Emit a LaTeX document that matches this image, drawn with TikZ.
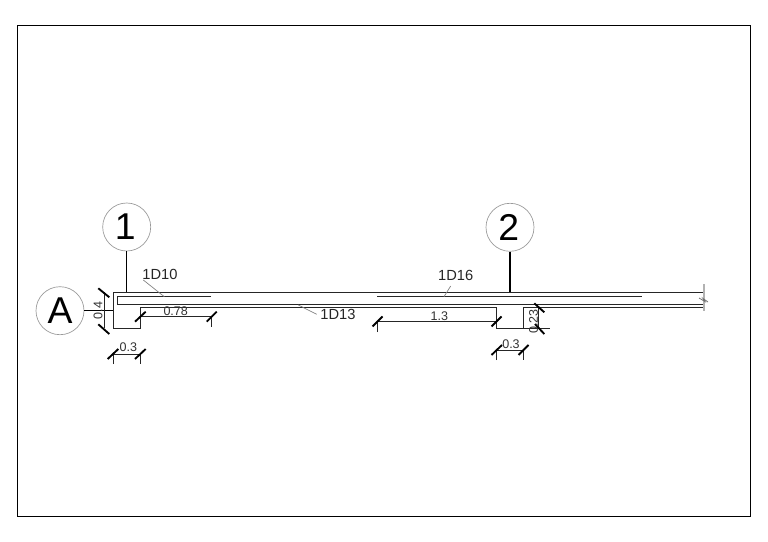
\documentclass[tikz,border=0pt]{standalone}
\usepackage{fontspec}
\setmainfont{Liberation Sans}
\definecolor{leadgray}{gray}{0.5}
\tikzset{
 grid/.style={circle,draw=black!40,line width=0.5pt,minimum size=36pt,inner sep=0pt,font=\fontsize{28}{28}\selectfont},
 concrete/.style={draw=black!85,line width=1.1pt,line join=miter},
 rebar/.style={draw=black!85,line width=1.1pt},
 dimline/.style={draw=black!85,line width=0.7pt},
 ticka/.style={draw=black,line width=1.4pt},
 leader/.style={draw=leadgray,line width=0.5pt},
 dimtxt/.style={font=\fontsize{9.4}{10}\selectfont,text=black!80,inner sep=0pt},
 bartxt/.style={font=\fontsize{11}{12}\selectfont,text=black!85,inner sep=0pt},
}
\begin{document}
\begin{tikzpicture}[x=0.75pt,y=-0.75pt]
\useasboundingbox (0,0) rectangle (768,542);
\fill[white] (0,0) rectangle (768,542);
\draw[black,line width=0.7pt] (17,25) rectangle (750,516);
% slab and beams
\draw[concrete] (704,292.3) -- (113.3,292.3) -- (113.3,328.3) -- (140.7,328.3) -- (140.7,307.5) -- (496.7,307.5) -- (496.7,328.3) -- (523.3,328.3) -- (523.3,307.5) -- (704,307.5);
% rebars
\draw[rebar] (211,296.7) -- (117.3,296.7) -- (117.3,304.5) -- (704,304.5);
\draw[rebar] (377.3,296.7) -- (641.7,296.7);
% break line
\draw[draw=black!30,line width=1pt] (704,284) -- (704,311);
\draw[draw=black!55,line width=0.6pt] (699,298) -- (705,301.5) -- (703,298.5) -- (708,302);
% grid bubbles
\node[grid] (g1) at (126.7,227) {\kern-2pt 1};
\node[grid] (g2) at (510,227.3) {\kern-2pt 2};
\node[grid] (gA) at (60,310.7) {A};
\coordinate (s1) at (126.7,292.3);
\coordinate (s2) at (510,292.3);
\coordinate (sA) at (113.3,310.7);
\draw[black,line width=0.8pt] (g1) -- (s1);
\draw[black,line width=0.8pt] (g2) -- (s2);
\draw[black,line width=0.6pt] (gA) -- (sA);
% bar labels
\node[bartxt] (t10) at (160,274) {1D10};
\node[bartxt] (t16) at (455.7,275.7) {1D16};
\node[bartxt] (t13) at (338,314.3) {1D13};
\draw[leader] (143.3,280) -- (164.3,296.7);
\draw[leader] (450.7,286) -- (444,296.7);
\draw[leader] (298.3,305) -- (316.7,314.3);
% dim 0.4
\draw[dimline] (104.3,292.3) -- (104.3,328.3);
\draw[ticka] (98.3,288.3) -- (109.3,297.3);
\draw[ticka] (98.3,324.3) -- (109.3,334);
\node[dimtxt,rotate=90] (d04) at (98,310.7) {0.4};
% dim 0.78
\draw[dimline] (140.7,316.7) -- (211.7,316.7) -- (211.7,327);
\draw[ticka] (135,321.7) -- (145.7,311.7);
\draw[ticka] (206.7,321.7) -- (216.7,311.7);
\node[dimtxt] (d078) at (175.7,311) {0.78};
% dim 0.3 left
\draw[dimline] (113.3,364) -- (113.3,354) -- (140.7,354) -- (140.7,364);
\draw[ticka] (107.7,359) -- (118.3,349);
\draw[ticka] (135,359) -- (145.7,349);
\node[dimtxt] (d03a) at (128.3,347) {0.3};
% dim 1.3
\draw[dimline] (377.3,332) -- (377.3,321.7) -- (496.7,321.7);
\draw[ticka] (372.5,326.5) -- (382.5,316.5);
\draw[ticka] (491.5,326.5) -- (501.5,316.5);
\node[dimtxt] (d13) at (439.3,316) {1.3};
% dim 0.3 right
\draw[dimline] (496.7,360) -- (496.7,350) -- (523.3,350) -- (523.3,360);
\draw[ticka] (491.5,355) -- (502,345);
\draw[ticka] (518.5,355) -- (528.5,345);
\node[dimtxt] (d03b) at (511,344) {0.3};
% dim 0.23
\draw[dimline] (538,307.5) -- (538,328.3);
\draw[dimline] (523.3,328.3) -- (550,328.3);
\draw[ticka] (534.3,303.3) -- (544.3,312.3);
\draw[ticka] (535,324) -- (544.3,334);
\node[dimtxt,rotate=90] (d023) at (533.5,321.7) {0.23};
\end{tikzpicture}
\end{document}
